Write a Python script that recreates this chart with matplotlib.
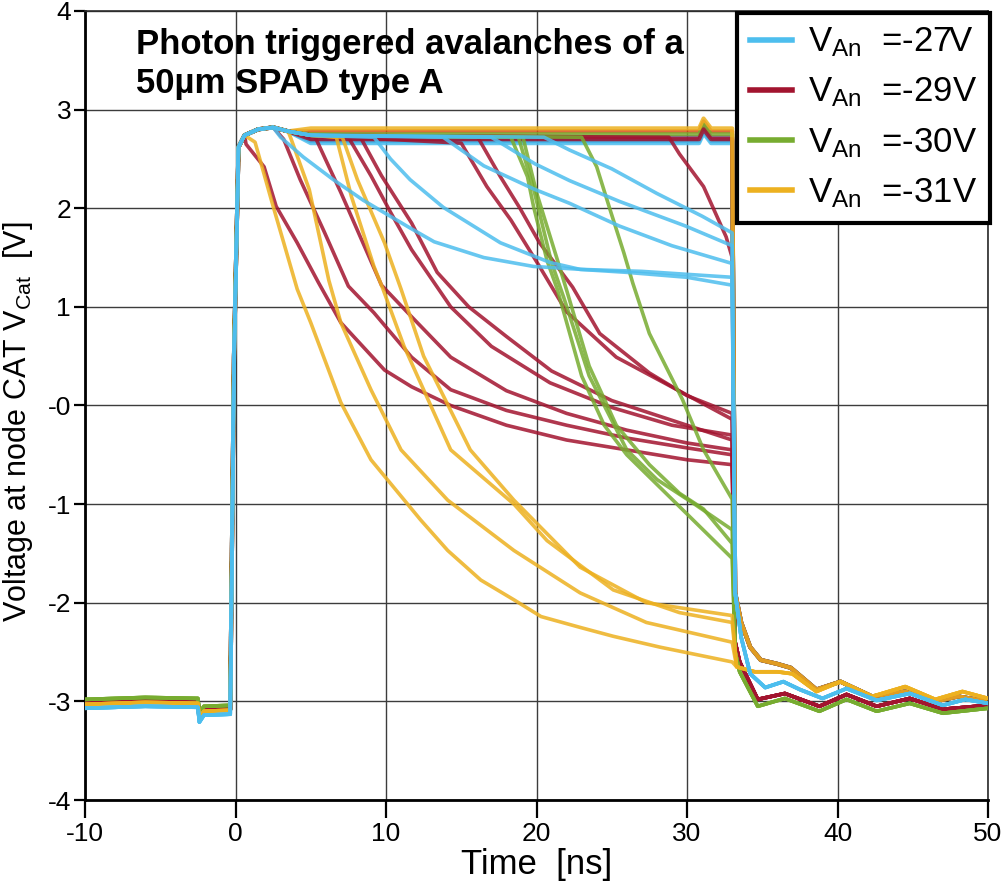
import numpy as np
import matplotlib
matplotlib.use("Agg")
import matplotlib.pyplot as plt
from matplotlib.lines import Line2D

plt.rcParams['font.family'] = ['Liberation Sans', 'DejaVu Sans']
plt.rcParams['mathtext.fontset'] = 'custom'
plt.rcParams['mathtext.rm'] = 'Liberation Sans'
plt.rcParams['mathtext.it'] = 'Liberation Sans:italic'
plt.rcParams['mathtext.bf'] = 'Liberation Sans:bold'
plt.rcParams['mathtext.default'] = 'regular'

# ---------------- data ----------------
xticks = [-10, 0, 10, 20, 30, 40, 50]
xtick_labels = ['-10', '0', '10', '20', '30', '40', '50']
yticks = [-4, -3, -2, -1, 0, 1, 2, 3, 4]
ytick_labels = ['-4', '-3', '-2', '-1', '-0', '1', '2', '3', '4']

series_labels = ['-27V', '-29V', '-30V', '-31V']

# common part before the avalanche: baseline, step, rise, plateau
head_t = [-10.0, -6.0, -2.5, -2.4, -2.1, -0.35, -0.1, 0.2, 0.6, 1.5, 2.5, 3.5, 5.0]
head_v = [-3.02, -3.0, -3.01, -3.16, -3.09, -3.08, 0.5, 2.62, 2.74, 2.80, 2.82, 2.78, 2.74]

# V_An = -27 V (blue)
B1_t = [3.0, 4.5, 6.5, 8.5, 11.6, 13.2, 16.5, 19.8, 23.0, 27.0, 30.0, 33.0]
B1_v = [2.72, 2.52, 2.29, 2.08, 1.80, 1.66, 1.50, 1.41, 1.38, 1.36, 1.33, 1.30]
B2_t = [9.2, 10.3, 11.6, 13.8, 17.6, 20.9, 22.9, 26.0, 30.0, 33.0]
B2_v = [2.72, 2.50, 2.29, 2.01, 1.65, 1.45, 1.38, 1.35, 1.30, 1.22]
B3_t = [13.8, 16.5, 19.9, 22.2, 25.5, 29.0, 33.0]
B3_v = [2.72, 2.43, 2.19, 2.05, 1.82, 1.62, 1.44]
B4_t = [17.0, 19.9, 22.2, 25.5, 29.9, 33.0]
B4_v = [2.72, 2.45, 2.28, 2.07, 1.82, 1.62]
B5_t = [20.5, 22.2, 25.0, 28.0, 31.0, 33.0]
B5_v = [2.72, 2.59, 2.40, 2.15, 1.92, 1.75]

# V_An = -29 V (red)
R1_t = [0.7, 1.9, 2.7, 4.1, 5.5, 7.0, 9.9, 11.7, 14.3, 18.0, 22.0, 26.0, 30.0, 33.0]
R1_v = [2.65, 2.42, 2.02, 1.65, 1.25, 0.84, 0.36, 0.19, 0.0, -0.20, -0.35, -0.45, -0.55, -0.60]
R2_t = [3.2, 4.3, 5.9, 7.5, 9.2, 11.7, 14.3, 18.0, 22.0, 26.0, 30.0, 33.0]
R2_v = [2.70, 2.29, 1.76, 1.21, 0.94, 0.49, 0.16, -0.05, -0.20, -0.33, -0.43, -0.50]
R3_t = [5.3, 7.0, 9.7, 11.7, 14.3, 18.0, 22.0, 26.0, 30.0, 33.0]
R3_v = [2.72, 2.16, 1.22, 0.90, 0.49, 0.15, -0.08, -0.25, -0.38, -0.45]
R4_t = [7.5, 9.0, 10.3, 11.7, 14.3, 17.0, 20.9, 25.0, 29.0, 33.0]
R4_v = [2.72, 2.33, 1.96, 1.58, 1.00, 0.60, 0.23, -0.02, -0.20, -0.30]
R5_t = [8.3, 9.7, 11.7, 13.4, 15.5, 18.0, 21.0, 25.0, 29.0, 33.0]
R5_v = [2.72, 2.33, 1.85, 1.35, 1.00, 0.70, 0.35, 0.05, -0.15, -0.35]
R6_t = [15.0, 16.7, 18.3, 20.2, 22.0, 25.3, 29.7, 33.0]
R6_v = [2.66, 2.22, 1.88, 1.41, 0.95, 0.49, 0.13, -0.14]
R7_t = [16.1, 17.6, 18.9, 20.2, 22.4, 24.2, 27.5, 30.0, 33.0]
R7_v = [2.72, 2.32, 2.00, 1.65, 1.20, 0.73, 0.33, 0.10, -0.08]
R8_t = [28.8, 29.5, 31.1, 32.6, 33.0]
R8_v = [2.72, 2.55, 2.22, 1.71, 1.50]

# V_An = -30 V (green)
G1_t = [18.3, 19.4, 19.8, 20.7, 21.4, 23.0, 24.5, 26.0, 28.0, 30.0, 33.0]
G1_v = [2.72, 2.32, 2.02, 1.47, 1.17, 0.30, -0.20, -0.50, -0.80, -1.10, -1.55]
G2_t = [19.1, 20.0, 21.4, 22.0, 23.5, 25.3, 27.5, 29.5, 31.1, 33.0]
G2_v = [2.72, 2.16, 1.47, 1.17, 0.40, -0.20, -0.60, -0.89, -1.05, -1.40]
G3_t = [18.8, 19.8, 21.0, 21.8, 23.5, 26.0, 28.0, 30.5, 33.0]
G3_v = [2.72, 2.20, 1.45, 1.10, 0.30, -0.45, -0.75, -1.00, -1.26]
G4_t = [23.0, 24.0, 24.9, 25.8, 26.4, 27.5, 29.7, 31.1, 33.0]
G4_v = [2.72, 2.42, 1.98, 1.55, 1.24, 0.73, 0.06, -0.45, -0.95]

# V_An = -31 V (orange)
O1_t = [1.3, 2.5, 4.1, 5.0, 7.0, 9.0, 12.3, 14.1, 16.3, 18.5, 20.3, 22.9, 25.1, 28.2, 33.0]
O1_v = [2.67, 2.02, 1.18, 0.84, 0.03, -0.55, -1.16, -1.47, -1.77, -1.97, -2.14, -2.25, -2.34, -2.45, -2.60]
O2_t = [3.7, 4.9, 6.2, 7.0, 9.0, 11.0, 14.1, 18.5, 22.9, 27.3, 33.0]
O2_v = [2.70, 2.19, 1.27, 0.84, 0.16, -0.45, -0.96, -1.47, -1.90, -2.20, -2.40]
O3_t = [6.7, 7.7, 9.2, 9.8, 11.2, 14.3, 18.5, 20.7, 25.1, 29.5, 33.0]
O3_v = [2.72, 2.12, 1.41, 1.18, 0.60, -0.45, -1.00, -1.37, -1.87, -2.10, -2.20]
O4_t = [7.1, 8.1, 9.9, 11.0, 12.5, 15.6, 18.5, 22.9, 27.3, 33.0]
O4_v = [2.72, 2.29, 1.65, 1.18, 0.50, -0.45, -0.96, -1.64, -2.00, -2.13]

# traces without avalanche (stay on the plateau until 33 ns)
flat_t = [5.0, 30.8, 31.1, 31.6, 33.0]
flat_levels = [2.68, 2.72, 2.78, 2.66, 2.75, 2.70, 2.81]
flat_bump = [0.0, 0.0, 0.10, 0.0, 0.0]

# after the 33 ns edge: ringing back to -3 V
tail_blue_t = [33.2, 33.6, 34.2, 35.2, 36.4, 37.5, 39.0, 40.6, 42.6, 44.8, 47.0, 48.5, 50.0]
tail_blue_v = [-1.90, -2.35, -2.72, -2.86, -2.80, -2.88, -2.97, -2.87, -2.99, -2.92, -3.04, -2.98, -3.02]
tail_red_t = [33.2, 33.5, 34.7, 36.5, 38.8, 40.6, 42.6, 44.8, 47.0, 50.0]
tail_red_v = [-2.40, -2.60, -2.98, -2.92, -3.05, -2.93, -3.05, -2.97, -3.08, -3.04]
tail_green_t = [33.2, 33.5, 34.7, 36.5, 38.8, 40.6, 42.6, 44.8, 47.0, 50.0]
tail_green_v = [-2.50, -2.70, -3.05, -2.97, -3.10, -2.98, -3.10, -3.02, -3.12, -3.07]
tail_orange_t = [33.3, 34.5, 36.0, 37.0, 38.6, 40.2, 42.3, 44.5, 46.5, 48.3, 50.0]
tail_orange_v = [-2.65, -2.70, -2.70, -2.72, -2.90, -2.80, -2.95, -2.85, -2.98, -2.90, -2.97]
tail_flat_t = [33.2, 33.6, 34.2, 34.9, 36.0, 36.9, 38.6, 40.2, 42.3, 44.5, 46.5, 48.0, 50.0]
tail_flat_v = [-1.90, -2.20, -2.45, -2.58, -2.62, -2.66, -2.88, -2.80, -2.95, -2.90, -3.00, -2.95, -3.00]

# ---------------- styling ----------------
c_blue, c_red, c_green, c_orange = '#4DBEEE', '#A2142F', '#77AC30', '#EDB120'
flat_colors = ['#0072BD', '#7E2F8E', '#D95319', '#4DBEEE', '#77AC30', '#A2142F', '#EDB120']

fig = plt.figure(figsize=(10.05, 8.88), dpi=100)
ax = fig.add_axes([85 / 1005, 1 - 800 / 888, (988 - 85) / 1005, (800 - 11) / 888])
ax.set_xlim(-10, 50)
ax.set_ylim(-4, 4)


def build(tr_t, tr_v, tl_t, tl_v, offset=0.0):
    ht = np.array(head_t)
    hv = np.array(head_v) + np.where(ht < 0, offset, 0.0)
    keep = ht < tr_t[0]
    t = np.concatenate([ht[keep], tr_t, tl_t])
    v = np.concatenate([hv[keep], tr_v, tl_v])
    return t, v


groups = [
    (c_red, [(R1_t, R1_v), (R2_t, R2_v), (R3_t, R3_v), (R4_t, R4_v), (R5_t, R5_v),
             (R6_t, R6_v), (R7_t, R7_v), (R8_t, R8_v)], tail_red_t, tail_red_v, 0.0),
    (c_green, [(G1_t, G1_v), (G2_t, G2_v), (G3_t, G3_v), (G4_t, G4_v)],
     tail_green_t, tail_green_v, 0.04),
    (c_orange, [(O1_t, O1_v), (O2_t, O2_v), (O3_t, O3_v), (O4_t, O4_v)],
     tail_orange_t, tail_orange_v, -0.01),
    (c_blue, [(B1_t, B1_v), (B2_t, B2_v), (B3_t, B3_v), (B4_t, B4_v), (B5_t, B5_v)],
     tail_blue_t, tail_blue_v, -0.05),
]

for color, traces, tl_t, tl_v, off in groups:
    for tr_t, tr_v in traces:
        t, v = build(tr_t, tr_v, tl_t, tl_v, off)
        ax.plot(t, v, color=color, lw=2.6, alpha=0.85, zorder=3,
                solid_joinstyle='round', solid_capstyle='round')

for lvl, col in zip(flat_levels, flat_colors):
    fv = [lvl + b for b in flat_bump]
    t, v = build(flat_t, fv, tail_flat_t, tail_flat_v, 0.0)
    ax.plot(t, v, color=col, lw=3.0, alpha=0.85, zorder=2.5, solid_joinstyle='round')

# axes decoration
ax.set_xticks(xticks)
ax.set_xticklabels(xtick_labels)
ax.set_yticks(yticks)
ax.set_yticklabels(ytick_labels)
ax.grid(True, color='#3c3c3c', lw=1.0)
ax.set_axisbelow(True)
ax.tick_params(axis='x', direction='out', length=13, width=1.6, labelsize=19, pad=3)
ax.tick_params(axis='y', direction='out', length=8, width=1.6, labelsize=19, pad=2)
for s in ['left', 'bottom']:
    ax.spines[s].set_linewidth(2.0)
    ax.spines[s].set_color('black')
for s in ['top', 'right']:
    ax.spines[s].set_linewidth(1.2)
    ax.spines[s].set_color('#2a2a2a')

ax.set_xlabel('Time  [ns]', fontsize=25, labelpad=1)
ax.set_ylabel('Voltage at node CAT V$_{Cat}$  [V]', fontsize=22)
ax.yaxis.set_label_coords(-0.055, 0.48)

ax.text(-6.64, 3.565, 'Photon triggered avalanches of a', fontsize=25,
        fontweight='bold', va='baseline', ha='left', zorder=5)
ax.text(-6.64, 3.17, '50\u00b5m SPAD type A', fontsize=25,
        fontweight='bold', va='baseline', ha='left', zorder=5)

handles = [Line2D([0], [0], color=c, lw=4) for c in (c_blue, c_red, c_green, c_orange)]
labels = ['V$_{An}$  =' + s for s in series_labels]
leg = ax.legend(handles, labels, loc='upper right', bbox_to_anchor=(1.002, 0.998),
                borderaxespad=0.0, fontsize=25, handlelength=1.2, handletextpad=0.45,
                labelspacing=0.47, borderpad=0.38, fancybox=False, framealpha=1.0,
                edgecolor='black')
leg.get_frame().set_linewidth(3.0)
leg.set_zorder(10)

fig.savefig('out.png', dpi=100)
